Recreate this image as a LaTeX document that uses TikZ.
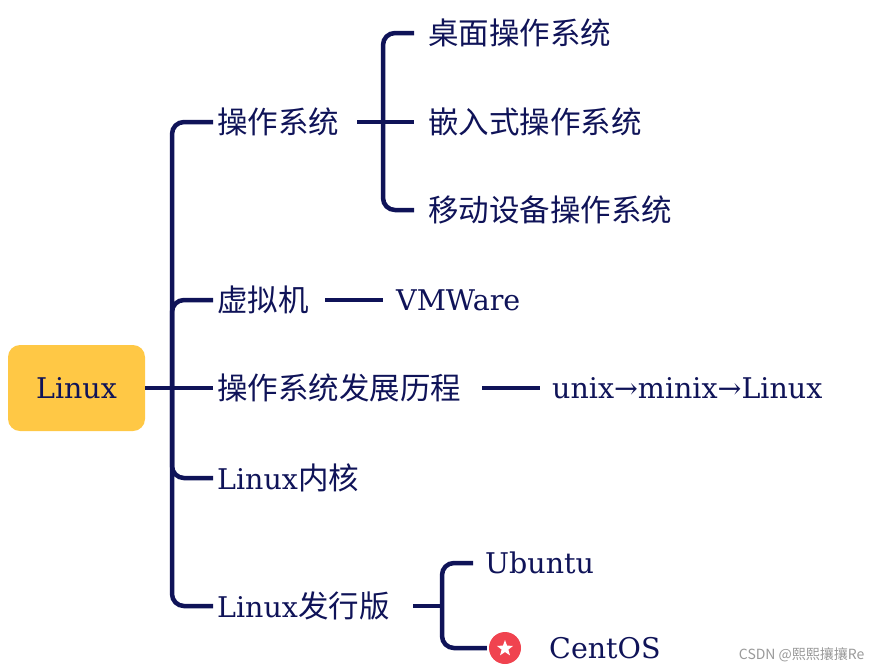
\documentclass[tikz,border=0pt]{standalone}
\usepackage{fontspec}
\setmainfont{DejaVu Serif}
\newfontfamily\cjk{Noto Sans CJK SC}
\usetikzlibrary{shapes.geometric}
\definecolor{navy}{HTML}{0F1358}
\definecolor{gold}{HTML}{FFC845}
\definecolor{starred}{HTML}{F0434F}
\newcommand{\zh}[1]{{\cjk\fontsize{30.5}{32}\selectfont #1}}
\begin{document}
\begin{tikzpicture}[x=1pt,y=-1pt,
  lbl/.style={anchor=west,inner sep=0pt,text=navy,font=\fontsize{28.5}{32}\selectfont},
  ln/.style={draw=navy,line width=4.5pt,rounded corners=12pt},
  st/.style={draw=navy,line width=4.5pt}]
\useasboundingbox (0,0) rectangle (872,670);
\node[fill=gold,rounded corners=12pt,minimum width=137pt,minimum height=86pt,text=navy,font=\fontsize{28.5}{32}\selectfont] (root) at (76.5,388) {Linux};
\node[lbl] (os) at (217,122) {\zh{操作系统}};
\node[lbl] (vm) at (217,300) {\zh{虚拟机}};
\node[lbl] (hist) at (217,388) {\zh{操作系统发展历程}};
\node[lbl] (kern) at (217,478) {Linux\zh{内核}};
\node[lbl] (dist) at (217,606) {Linux\zh{发行版}};
\node[lbl] (d1) at (428,33) {\zh{桌面操作系统}};
\node[lbl] (d2) at (428,122) {\zh{嵌入式操作系统}};
\node[lbl] (d3) at (428,210) {\zh{移动设备操作系统}};
\node[lbl] (vmw) at (396,300) {VMWare};
\node[lbl] (unix) at (552,388) {unix→minix→Linux};
\node[lbl] (ubu) at (485,563) {Ubuntu};
\node[lbl] (cent) at (549,648) {CentOS};
\node[circle,fill=starred,minimum size=32pt,inner sep=0pt] (ic) at (505,648) {};
\node[star,star points=5,star point ratio=2.4,fill=white,minimum size=17pt,inner sep=0pt] (sx) at (505,648.5) {};
\node[anchor=east,text=gray!80,font=\fontsize{14}{16}\selectfont\cjk] (wm) at (868,655) {CSDN @熙熙攘攘Re};
% trunk
\coordinate (t) at (172,388);
\coordinate (r) at (145,388);
\draw[st] (r) -- (t);
\draw[ln] ([xshift=-4pt]os.west) -| (t) |- ([xshift=-4pt]dist.west);
\draw[ln] (t) |- ([xshift=-4pt]vm.west);
\draw[st] (t) -- ([xshift=-4pt]hist.west);
\draw[ln] (t) |- ([xshift=-4pt]kern.west);
% os bracket
\coordinate (b1) at (383,122);
\coordinate (s1) at (357,122);
\draw[st] (s1) -- ([xshift=-14pt]d2.west);
\draw[ln] ([xshift=-14pt]d1.west) -| (b1) |- ([xshift=-14pt]d3.west);
\coordinate (s2) at (325,300);
\coordinate (s3) at (482,388);
\draw[st] (s2) -- ([xshift=-13pt]vmw.west);
\draw[st] (s3) -- ([xshift=-12pt]unix.west);
% dist bracket
\coordinate (b2) at (442,606);
\coordinate (s4) at (413,606);
\draw[st] (s4) -- (b2);
\draw[ln] ([xshift=-12pt]ubu.west) -| (b2) |- ([xshift=-2pt]ic.west);
\end{tikzpicture}
\end{document}
